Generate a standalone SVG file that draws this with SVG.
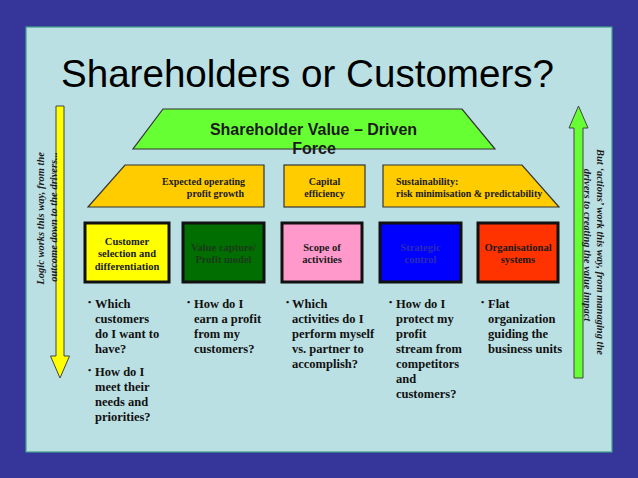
<svg xmlns="http://www.w3.org/2000/svg" width="638" height="478" viewBox="0 0 638 478">
<style>
.title{font-family:"Liberation Sans",Arial,sans-serif;font-size:39px;fill:#000}
.hdr{font-family:"Liberation Sans",Arial,sans-serif;font-size:16px;font-weight:bold;fill:#1a1a1a;text-anchor:middle}
.sm{font-family:"Liberation Serif","Times New Roman",serif;font-size:10px;font-weight:bold;fill:#1a1a1a}
.bx{font-family:"Liberation Serif","Times New Roman",serif;font-size:10.5px;font-weight:bold;fill:#1a1a1a;text-anchor:middle}
.bl{font-family:"Liberation Serif","Times New Roman",serif;font-size:12.5px;font-weight:bold;fill:#111}
.dot{font-family:"Liberation Serif","Times New Roman",serif;font-size:9px;font-weight:bold;fill:#111}
.side{font-family:"Liberation Serif","Times New Roman",serif;font-size:10.5px;font-weight:bold;font-style:italic;fill:#1a1a1a}
.shape{stroke:#333;stroke-width:1.2}
.box{stroke:#111;stroke-width:3}
</style>
<rect width="638" height="478" fill="#36359A"/>
<rect x="26" y="27" width="586" height="425" fill="#BBE0E3" stroke="#3f9f8c" stroke-width="1.2"/>
<text class="title" x="61" y="87" textLength="493" lengthAdjust="spacingAndGlyphs">Shareholders or Customers?</text>

<g id="shareholder-value">
<polygon class="shape" points="163,109 462,109 495,149 133,149" fill="#66FF33"/>
<text class="hdr" x="313.5" y="135">Shareholder Value – Driven</text>
<text class="hdr" x="314" y="154">Force</text>
</g>

<g id="expected-operating-profit">
<polygon class="shape" points="125,165 264,165 264,207 88,207" fill="#FFCC00"/>
<text class="sm" x="162" y="184.5">Expected operating</text>
<text class="sm" x="244" y="196.5" text-anchor="end">profit growth</text>
</g>
<g id="capital-efficiency">
<rect class="shape" x="284" y="165" width="81" height="42" fill="#FFCC00"/>
<text class="sm" x="324.5" y="184.5" text-anchor="middle">Capital</text>
<text class="sm" x="324.5" y="196.5" text-anchor="middle">efficiency</text>
</g>
<g id="sustainability">
<polygon class="shape" points="383,165 522,165 559,207 383,207" fill="#FFCC00"/>
<text class="sm" x="396" y="184.5">Sustainability:</text>
<text class="sm" x="396" y="196.5">risk minimisation &amp; predictability</text>
</g>

<g id="customer-selection">
<rect class="box" x="85" y="223" width="84" height="59" fill="#FFFF00"/>
<text class="bx" x="127" y="244.5">Customer</text>
<text class="bx" x="127" y="257">selection and</text>
<text class="bx" x="127" y="269.5">differentiation</text>
</g>
<g id="value-capture">
<rect class="box" x="183" y="223" width="81" height="59" fill="#006E00"/>
<text class="bx" x="223.5" y="251" fill="#1c3a1c" style="fill:#1c3a1c">Value capture/</text>
<text class="bx" x="223.5" y="263" style="fill:#1c3a1c">Profit model</text>
</g>
<g id="scope-of-activities">
<rect class="box" x="282" y="223" width="80" height="59" fill="#FF99CC"/>
<text class="bx" x="322" y="251">Scope of</text>
<text class="bx" x="322" y="263">activities</text>
</g>
<g id="strategic-control">
<rect class="box" x="380" y="223" width="81" height="59" fill="#0000FF"/>
<text class="bx" x="420.5" y="251" style="fill:#2b2bb8">Strategic</text>
<text class="bx" x="420.5" y="263" style="fill:#2b2bb8">control</text>
</g>
<g id="organisational-systems">
<rect class="box" x="478" y="223" width="80" height="59" fill="#FF3300"/>
<text class="bx" x="518" y="251">Organisational</text>
<text class="bx" x="518" y="263">systems</text>
</g>

<g id="bullets-customer">
<text class="dot" x="88" y="305">•</text>
<text class="bl" x="95" y="307.5">Which</text>
<text class="bl" x="95" y="322.5">customers</text>
<text class="bl" x="95" y="337.5">do I want to</text>
<text class="bl" x="95" y="352.5">have?</text>
<text class="dot" x="88" y="373">•</text>
<text class="bl" x="95" y="375.5">How do I</text>
<text class="bl" x="95" y="390.5">meet their</text>
<text class="bl" x="95" y="405.5">needs and</text>
<text class="bl" x="95" y="420.5">priorities?</text>
</g>
<g id="bullets-value">
<text class="dot" x="187" y="305">•</text>
<text class="bl" x="194" y="307.5">How do I</text>
<text class="bl" x="194" y="322.5">earn a profit</text>
<text class="bl" x="194" y="337.5">from my</text>
<text class="bl" x="194" y="352.5">customers?</text>
</g>
<g id="bullets-scope">
<text class="dot" x="286" y="305">•</text>
<text class="bl" x="292" y="307.5">Which</text>
<text class="bl" x="292" y="322.5">activities do I</text>
<text class="bl" x="292" y="337.5">perform myself</text>
<text class="bl" x="292" y="352.5">vs. partner to</text>
<text class="bl" x="292" y="367.5">accomplish?</text>
</g>
<g id="bullets-strategic">
<text class="dot" x="389" y="305">•</text>
<text class="bl" x="396" y="307.5">How do I</text>
<text class="bl" x="396" y="322.5">protect my</text>
<text class="bl" x="396" y="337.5">profit</text>
<text class="bl" x="396" y="352.5">stream from</text>
<text class="bl" x="396" y="367.5">competitors</text>
<text class="bl" x="396" y="382.5">and</text>
<text class="bl" x="396" y="397.5">customers?</text>
</g>
<g id="bullets-organisational">
<text class="dot" x="481" y="305">•</text>
<text class="bl" x="488" y="307.5">Flat</text>
<text class="bl" x="488" y="322.5">organization</text>
<text class="bl" x="488" y="337.5">guiding the</text>
<text class="bl" x="488" y="352.5">business units</text>
</g>

<g id="logic-arrow">
<polygon points="56,106 64,106 64,356 69.5,356 60,378 50.5,356 56,356" fill="#FFFF00" stroke="#444" stroke-width="1"/>
<text class="side" transform="translate(44,152) rotate(-90)" text-anchor="end">Logic works this way, from the</text>
<text class="side" transform="translate(57,152) rotate(-90)" text-anchor="end">outcome down to the drivers...</text>
</g>
<g id="actions-arrow">
<polygon points="578.5,106 588,128 583,128 583,378 574,378 574,128 569,128" fill="#66FF33" stroke="#444" stroke-width="1"/>
<text class="side" transform="translate(597,252) rotate(90)" text-anchor="middle">But ‘actions’ work this way, from managing the</text>
<text class="side" transform="translate(584,245) rotate(90)" text-anchor="middle">drivers to creating the value impact</text>
</g>
<g id="connectors"/>
</svg>
